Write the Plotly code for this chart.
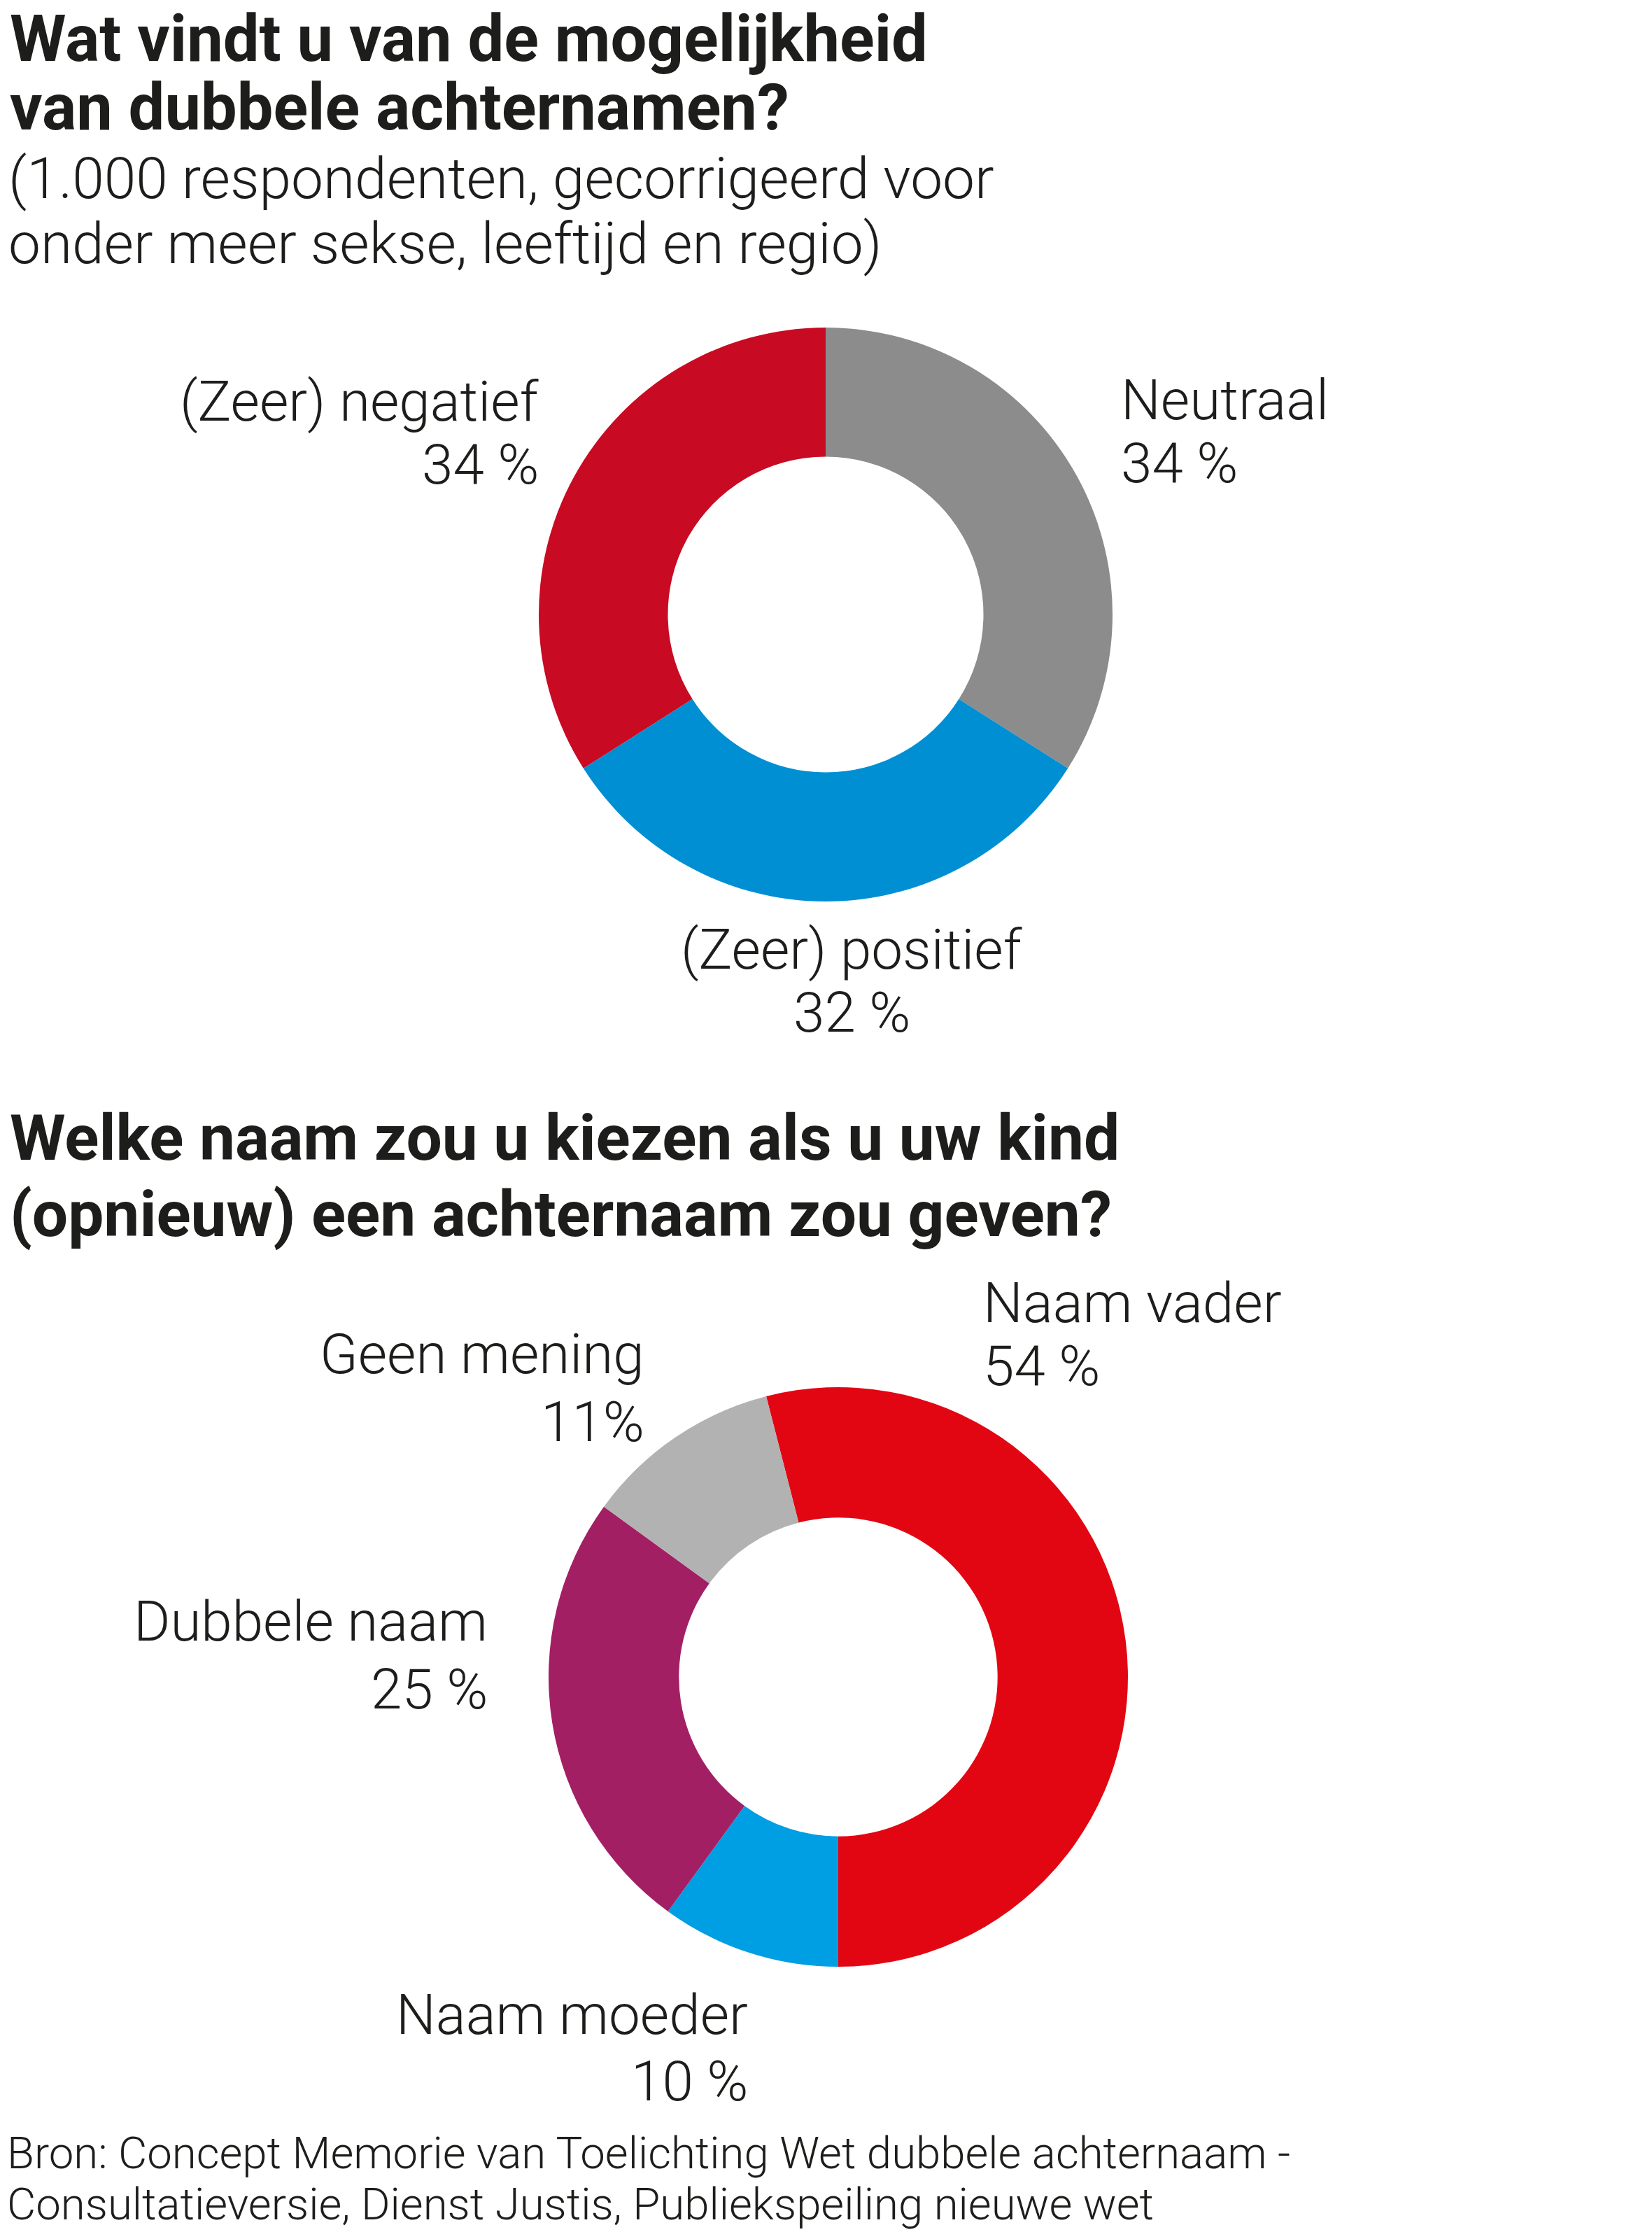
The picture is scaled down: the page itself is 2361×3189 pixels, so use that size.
import plotly.graph_objects as go

W, H = 2361, 3189

# ---- data ----
q1_title = ["Wat vindt u van de mogelijkheid", "van dubbele achternamen?"]
q1_subtitle = ["(1.000 respondenten, gecorrigeerd voor", "onder meer sekse, leeftijd en regio)"]
q1_labels = ["Neutraal", "(Zeer) positief", "(Zeer) negatief"]
q1_values = [34, 32, 34]
q1_suffix = [" %", " %", " %"]
q1_colors = ["#8c8c8c", "#008fd3", "#c80a23"]

q2_title = ["Welke naam zou u kiezen als u uw kind", "(opnieuw) een achternaam zou geven?"]
q2_labels = ["Naam vader", "Naam moeder", "Dubbele naam", "Geen mening"]
q2_values = [54, 10, 25, 11]
q2_suffix = [" %", " %", " %", "%"]
q2_colors = ["#e20613", "#009fe3", "#a31f64", "#b2b2b2"]

source = ["Bron: Concept Memorie van Toelichting Wet dubbele achternaam -",
          "Consultatieversie, Dienst Justis, Publiekspeiling nieuwe wet"]

TXT = "#1d1d1b"


def px_x(x):
    return x / W


def px_y(y):
    return 1 - y / H


def domain(cx, cy, r):
    return dict(x=[px_x(cx - r), px_x(cx + r)], y=[px_y(cy + r), px_y(cy - r)])


fig = go.Figure()

fig.add_trace(go.Pie(
    labels=q1_labels, values=q1_values, hole=0.55, sort=False,
    direction="clockwise", rotation=0,
    marker=dict(colors=q1_colors, line=dict(width=0)),
    textinfo="none", hoverinfo="skip", showlegend=False,
    domain=domain(1180, 878, 410),
))

q2_total = sum(q2_values)
fig.add_trace(go.Pie(
    labels=q2_labels, values=q2_values, hole=0.55, sort=False,
    direction="clockwise", rotation=180 - 360 * q2_values[0] / q2_total,
    marker=dict(colors=q2_colors, line=dict(width=0)),
    textinfo="none", hoverinfo="skip", showlegend=False,
    domain=domain(1198, 2396, 414),
))

anns = []


def add(text, x, y, size, weight=300, xanchor="left", yanchor="middle"):
    anns.append(dict(
        text=text, x=px_x(x), y=px_y(y), xref="paper", yref="paper",
        xanchor=xanchor, yanchor=yanchor, showarrow=False,
        font=dict(family="Roboto", size=size, color=TXT, weight=weight),
    ))


# titles
add(q1_title[0], 12, 0, 92, weight=700, yanchor="top")
add(q1_title[1], 12, 154, 92, weight=700)
add(q1_subtitle[0], 10, 255, 82)
add(q1_subtitle[1], 10, 348, 82)
add(q2_title[0], 12, 1626, 91, weight=700)
add(q2_title[1], 12, 1735, 91, weight=700)
add(source[0], 8, 3076, 63.5)
add(source[1], 8, H, 63.5, yanchor="bottom")

LBL = 80
# chart 1 labels: (x, y line1, y line2, anchor)
q1_pos = [(1600, 572, 662, "left"), (1217, 1357, 1447, "center"), (772, 574, 664, "right")]
for lab, v, suf, (x, y1, y2, anc) in zip(q1_labels, q1_values, q1_suffix, q1_pos):
    add(lab, x, y1, LBL, xanchor=anc)
    add(f"{v}{suf}", x, y2, LBL, xanchor=anc)

q2_pos = [(1403, 1862, 1952, "left"), (1071, 2879, 2974, "right"),
          (699, 2317, 2414, "right"), (923, 1935, 2032, "right")]
for lab, v, suf, (x, y1, y2, anc) in zip(q2_labels, q2_values, q2_suffix, q2_pos):
    add(lab, x, y1, LBL, xanchor=anc)
    add(f"{v}{suf}", x, y2, LBL, xanchor=anc)

fig.update_layout(
    width=W, height=H, margin=dict(l=0, r=0, t=0, b=0),
    paper_bgcolor="white", plot_bgcolor="white",
    annotations=anns,
)

fig.write_html("out.html", config={"displayModeBar": False})
